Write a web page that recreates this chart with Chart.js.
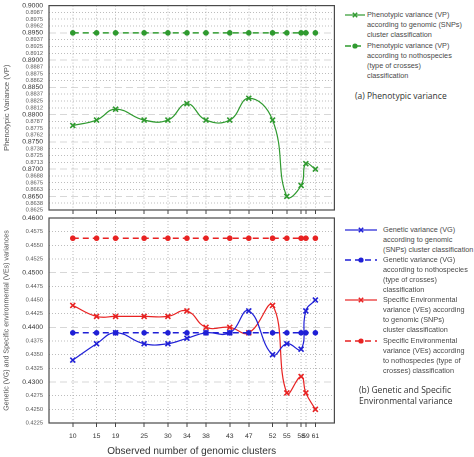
<!DOCTYPE html>
<html>
<head>
<meta charset="utf-8">
<script src="https://cdn.jsdelivr.net/npm/chart.js@4.4.0/dist/chart.umd.min.js"></script>
<style>
    body { margin: 0; width: 474px; height: 457px; overflow: hidden; background: #fff; position: relative; font-family: "Liberation Sans", Arial, sans-serif; }
    canvas { position: absolute; left: 0; }
    #topChart { top: 0; }
    #bottomChart { top: 211px; }
    .legend { position: absolute; color: #4a4a4a; font-size: 7.3px; white-space: nowrap; }
    .legend .entry { position: relative; color: #4a4a4a; }
    .legend svg { position: absolute; left: 0; }
    .caption { position: absolute; font-family: "Open Sans", sans-serif; font-size: 8.5px; color: #333; white-space: nowrap; line-height: 11px; }
</style>
</head>
<body>
<canvas id="topChart"></canvas>
<canvas id="bottomChart"></canvas>
<div class="legend" id="topLegend" style="left:345px; top:10px; line-height:10.2px;"></div>
<div class="legend" id="bottomLegend" style="left:345px; top:225px; line-height:10.05px;"></div>
<div class="caption" style="left:355px; top:90px;">(a) Phenotypic variance</div>
<div class="caption" style="left:359px; top:384px;">(b) Genetic and Specific<br>Environmental variance</div>
<script>
// observed number of genomic clusters
var clusters = [10, 15, 19, 25, 30, 34, 38, 43, 47, 52, 55, 58, 59, 61];

// (a) phenotypic variance
var vpGenomic = [0.8780, 0.8790, 0.8810, 0.8790, 0.8790, 0.8820, 0.8790, 0.8790, 0.8830, 0.8790, 0.8650, 0.8670, 0.8710, 0.8700];
var vpNotho = [0.8950, 0.8950, 0.8950, 0.8950, 0.8950, 0.8950, 0.8950, 0.8950, 0.8950, 0.8950, 0.8950, 0.8950, 0.8950, 0.8950];

// (b) genetic and specific environmental variance
var vgGenomic = [0.4340, 0.4370, 0.4390, 0.4370, 0.4370, 0.4380, 0.4390, 0.4390, 0.4430, 0.4350, 0.4370, 0.4360, 0.4430, 0.4450];
var vgNotho = [0.4390, 0.4390, 0.4390, 0.4390, 0.4390, 0.4390, 0.4390, 0.4390, 0.4390, 0.4390, 0.4390, 0.4390, 0.4390, 0.4390];
var vesGenomic = [0.4440, 0.4420, 0.4420, 0.4420, 0.4420, 0.4430, 0.4400, 0.4400, 0.4390, 0.4440, 0.4280, 0.4310, 0.4280, 0.4250];
var vesNotho = [0.4563, 0.4563, 0.4563, 0.4563, 0.4563, 0.4563, 0.4563, 0.4563, 0.4563, 0.4563, 0.4563, 0.4563, 0.4563, 0.4563];

// y tick labels, bottom to top
var topTickLabels = ['0.8625', '0.8638', '0.8650', '0.8663', '0.8675', '0.8688', '0.8700', '0.8713', '0.8725', '0.8738', '0.8750',
    '0.8762', '0.8775', '0.8787', '0.8800', '0.8812', '0.8825', '0.8837', '0.8850', '0.8862', '0.8875', '0.8887', '0.8900',
    '0.8912', '0.8925', '0.8937', '0.8950', '0.8962', '0.8975', '0.8987', '0.9000'];
var bottomTickLabels = ['0.4225', '0.4250', '0.4275', '0.4300', '0.4325', '0.4350', '0.4375', '0.4400', '0.4425', '0.4450',
    '0.4475', '0.4500', '0.4525', '0.4550', '0.4575', '0.4600'];

var topLegendText = [
    ['Phenotypic variance (VP)', 'according to genomic (SNPs)', 'cluster classification'],
    ['Phenotypic variance (VP)', 'according to nothospecies', '(type of crosses)', 'classification']
];
var bottomLegendText = [
    ['Genetic variance (VG)', 'according to genomic', '(SNPs) cluster classification'],
    ['Genetic variance (VG)', 'according to nothospecies', '(type of crosses)', 'classification'],
    ['Specific Environmental', 'variance (VEs) according', 'to genomic (SNPs)', 'cluster classification'],
    ['Specific Environmental', 'variance (VEs) according', 'to nothospecies (type of', 'crosses) classification']
];

var GREEN = '#2f9a2f', BLUE = '#1f1fd6', RED = '#e82222';
var FONT = '"Liberation Sans", Arial, sans-serif';

function toPoints(values) {
    return values.map(function(v, i) { return { x: clusters[i], y: v }; });
}

function solidSet(label, values, color) {
    return {
        label: label, data: toPoints(values),
        borderColor: color, backgroundColor: color, borderWidth: 1.2,
        pointStyle: 'crossRot', pointRadius: 3.5, pointBorderWidth: 1.6,
        tension: 0.45
    };
}

function dashedSet(label, values, color) {
    return {
        label: label, data: toPoints(values),
        borderColor: color, backgroundColor: color, borderWidth: 1.5, borderDash: [6, 4],
        pointStyle: 'circle', pointRadius: 2.8, pointBorderWidth: 0,
        tension: 0
    };
}

var framePlugin = {
    id: 'frame',
    afterDraw: function(chart) {
        var a = chart.chartArea, c = chart.ctx;
        c.save();
        c.strokeStyle = '#4a4a4a';
        c.lineWidth = 1.2;
        c.strokeRect(a.left, a.top, a.right - a.left, a.bottom - a.top);
        c.restore();
    }
};

function makeChart(canvasId, width, height, padding, xHeight, datasets, yMin, yStep, yLabels, majorStep, yTitle, yTitleSize, showX) {
    var canvas = document.getElementById(canvasId);
    canvas.style.width = width + 'px';
    canvas.style.height = height + 'px';

    function isMajor(v) {
        return Math.round(v * 10000) % majorStep === 0;
    }

    return new Chart(canvas, {
        type: 'line',
        data: { datasets: datasets },
        plugins: [framePlugin],
        options: {
            responsive: false,
            animation: false,
            devicePixelRatio: 2,
            layout: { padding: padding },
            plugins: { legend: { display: false }, tooltip: { enabled: false } },
            scales: {
                x: {
                    type: 'linear', min: 5, max: 65,
                    afterBuildTicks: function(scale) {
                        scale.ticks = clusters.map(function(v) { return { value: v }; });
                    },
                    afterFit: function(scale) {
                        scale.height = xHeight;
                        scale.paddingLeft = 0; scale.paddingRight = 0;
                    },
                    ticks: {
                        display: showX, autoSkip: false, maxRotation: 0, padding: 5,
                        color: '#333', font: { family: FONT, size: 6.8 }
                    },
                    grid: {
                        color: '#a8a8a8', lineWidth: 0.8,
                        drawTicks: true, tickLength: 4, tickColor: '#444', tickWidth: 1
                    },
                    border: {
                        display: false,
                        dash: function(ctx) { return ctx.tick ? [1, 2] : []; }
                    },
                    title: {
                        display: showX, text: 'Observed number of genomic clusters',
                        color: '#333', font: { family: FONT, size: 10 }, padding: { top: 0, bottom: 0 }
                    }
                },
                y: {
                    type: 'linear', min: yMin, max: yMin + yStep * (yLabels.length - 1),
                    afterBuildTicks: function(scale) {
                        scale.ticks = yLabels.map(function(l, i) { return { value: yMin + i * yStep }; });
                    },
                    afterFit: function(scale) {
                        scale.width = 49;
                        scale.paddingTop = 0; scale.paddingBottom = 0;
                    },
                    ticks: {
                        autoSkip: false, padding: 6,
                        callback: function(value) {
                            return yLabels[Math.round((value - yMin) / yStep)];
                        },
                        color: function(ctx) { return isMajor(ctx.tick.value) ? '#333' : '#555'; },
                        font: function(ctx) {
                            return { family: FONT, size: ctx.tick && isMajor(ctx.tick.value) ? 6.8 : 5.7 };
                        }
                    },
                    grid: {
                        drawTicks: false, lineWidth: 0.8,
                        color: function(ctx) { return ctx.tick && isMajor(ctx.tick.value) ? '#cacaca' : '#a8a8a8'; }
                    },
                    border: {
                        display: false,
                        dash: function(ctx) {
                            if (!ctx.tick) return [];
                            return isMajor(ctx.tick.value) ? [7, 4] : [1, 2];
                        }
                    },
                    title: {
                        display: true, text: yTitle, color: '#555',
                        font: { family: FONT, size: yTitleSize }, padding: { top: 2.5, bottom: 0 }
                    }
                }
            }
        }
    });
}

function buildLegend(id, chart, lines, sampleWidth, textLeft) {
    var box = document.getElementById(id);
    chart.data.datasets.forEach(function(ds, i) {
        var entry = document.createElement('div');
        entry.className = 'entry';
        entry.style.paddingLeft = textLeft + 'px';
        var text = document.createElement('span');
        text.style.color = '#4a4a4a';
        text.innerHTML = lines[i].join('<br>');
        var mid = sampleWidth / 2;
        var svg = '<svg width="' + sampleWidth + '" height="8" style="top:1px">';
        if (ds.borderDash) {
            svg += '<line x1="0" y1="4" x2="' + sampleWidth + '" y2="4" stroke="' + ds.borderColor + '" stroke-width="1.5" stroke-dasharray="6 4"/>' +
                '<circle cx="' + mid + '" cy="4" r="2.6" fill="' + ds.borderColor + '"/>';
        } else {
            svg += '<line x1="0" y1="4" x2="' + sampleWidth + '" y2="4" stroke="' + ds.borderColor + '" stroke-width="1.2"/>' +
                '<path d="M' + (mid - 2.2) + ' 1.8 L' + (mid + 2.2) + ' 6.2 M' + (mid + 2.2) + ' 1.8 L' + (mid - 2.2) + ' 6.2" stroke="' + ds.borderColor + '" stroke-width="1.5"/>';
        }
        svg += '</svg>';
        entry.innerHTML = svg;
        entry.appendChild(text);
        box.appendChild(entry);
    });
}

var topChart = makeChart('topChart', 340, 218, { top: 3, right: 4, bottom: 0, left: 0 }, 8,
    [
        solidSet(topLegendText[0].join(' '), vpGenomic, GREEN),
        dashedSet(topLegendText[1].join(' '), vpNotho, GREEN)
    ],
    0.8625, 0.00125, topTickLabels, 50, 'Phenotypic Variance (VP)', 7.6, false);

var bottomChart = makeChart('bottomChart', 340, 246, { top: 7, right: 4, bottom: 0, left: 0 }, 34,
    [
        solidSet(bottomLegendText[0].join(' '), vgGenomic, BLUE),
        dashedSet(bottomLegendText[1].join(' '), vgNotho, BLUE),
        solidSet(bottomLegendText[2].join(' '), vesGenomic, RED),
        dashedSet(bottomLegendText[3].join(' '), vesNotho, RED)
    ],
    0.4225, 0.0025, bottomTickLabels, 100, 'Genetic (VG) and Specific environmental (VEs) variances', 7.1, true);

buildLegend('topLegend', topChart, topLegendText, 20, 22);
buildLegend('bottomLegend', bottomChart, bottomLegendText, 32, 38);
</script>
</body>
</html>
